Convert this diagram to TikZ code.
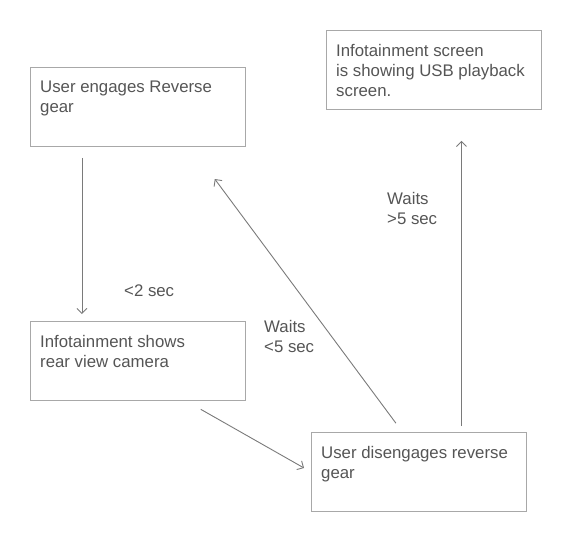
\documentclass[tikz,border=0pt]{standalone}
\usepackage{fontspec}
\setmainfont{Liberation Sans}
\usetikzlibrary{arrows.meta}
\definecolor{txtgray}{HTML}{555555}
\definecolor{linegray}{HTML}{7A7A7A}
\definecolor{boxgray}{HTML}{A8A8A8}
\tikzset{
  stepbox/.style={draw=boxgray,line width=0.9pt,anchor=north west,minimum width=215pt,minimum height=79pt,inner sep=0pt},
  boxtext/.style={anchor=north west,align=left,inner xsep=10pt,inner ysep=14pt,text=txtgray,font=\fontsize{16.8}{20}\selectfont},
  note/.style={anchor=west,align=left,inner sep=0pt,text=txtgray,font=\fontsize{16.8}{20}\selectfont},
  flow/.style={draw=linegray,line width=0.9pt,-{Straight Barb[length=5pt,width=10pt]}}
}
\begin{document}
\begin{tikzpicture}[x=1pt,y=-1pt]
\useasboundingbox (0,0) rectangle (571,541);
\node[stepbox] (engage) at (30,67) {};
\node[boxtext] at (engage.north west) {User engages Reverse\\gear};
\node[stepbox] (playback) at (326,30) {};
\node[boxtext] at (playback.north west) {Infotainment screen\\is showing USB playback\\screen.};
\node[stepbox] (rearcam) at (30,321) {};
\node[boxtext] at (rearcam.north west) {Infotainment shows\\rear view camera};
\node[stepbox] (disengage) at (311,432) {};
\node[boxtext] at (disengage.north west) {User disengages reverse\\gear};
\draw[flow,shorten <=11pt,shorten >=7pt] ([xshift=-56pt]engage.south) -- ([xshift=-56pt]rearcam.south |- rearcam.north);
\node[note] (lesstwo) at (124,291) {<2 sec};
\draw[flow,shorten <=17pt,shorten >=8pt] ([xshift=48pt]rearcam.south) -- (disengage.west);
\draw[flow,shorten <=11pt,shorten >=40pt] ([xshift=-16.5pt]disengage.north) -- ([xshift=53pt]engage.south);
\node[note] (lessfive) at (264,336) {Waits\\<5 sec};
\draw[flow,shorten <=6pt,shorten >=31pt] ([xshift=42.5pt]disengage.north) -- ([xshift=42.5pt]disengage.north |- playback.south);
\node[note] (morefive) at (387,208) {Waits\\>5 sec};
\end{tikzpicture}
\end{document}
